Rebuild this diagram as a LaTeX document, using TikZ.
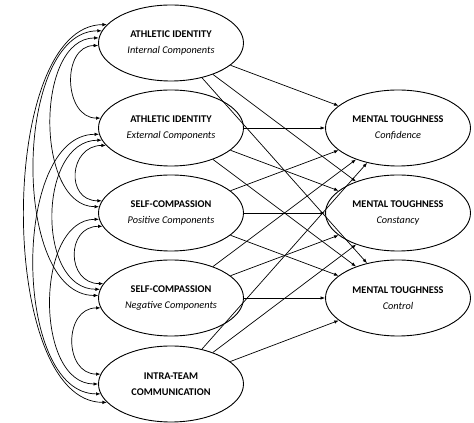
\documentclass[tikz,border=0pt]{standalone}
\usepackage{fontspec}
\setmainfont{Carlito}
\usetikzlibrary{shapes.geometric, arrows.meta}
\tikzset{>={Latex[length=4.5pt,width=3.5pt]}}
\def\leftx{171}
\def\rightx{398}
\def\covone{37}
\def\covtwo{64}
\def\covthree{88}
\def\covfour{110}
\tikzset{
  construct/.style={draw, ellipse, line width=0.9pt, minimum width=145pt, minimum height=76pt,
    inner sep=0pt, align=center, font=\fontsize{10.3}{16}\selectfont},
  path_arrow/.style={->, line width=0.7pt},
  cov_arrow/.style={<->, line width=0.7pt},
}

\begin{document}
\begin{tikzpicture}[x=1pt,y=1pt]

\useasboundingbox (0,0) rectangle (474,423);

% Predictors
\node[construct] (ai_internal) at (\leftx, 380) {\textbf{ATHLETIC IDENTITY}\\\textit{Internal Components}};
\node[construct] (ai_external) at (\leftx, 295) {\textbf{ATHLETIC IDENTITY}\\\textit{External Components}};
\node[construct] (sc_positive) at (\leftx, 210) {\textbf{SELF-COMPASSION}\\\textit{Positive Components}};
\node[construct] (sc_negative) at (\leftx, 125) {\textbf{SELF-COMPASSION}\\\textit{Negative Components}};
\node[construct] (intra_team) at (\leftx, 39) {\textbf{INTRA-TEAM}\\\textbf{COMMUNICATION}};

% Outcomes
\node[construct] (mt_confidence) at (\rightx, 295) {\textbf{MENTAL TOUGHNESS}\\\textit{Confidence}};
\node[construct] (mt_constancy) at (\rightx, 210) {\textbf{MENTAL TOUGHNESS}\\\textit{Constancy}};
\node[construct] (mt_control) at (\rightx, 125) {\textbf{MENTAL TOUGHNESS}\\\textit{Control}};

% Paths
\foreach \p in {ai_internal, ai_external, sc_positive, sc_negative, intra_team}{
    \foreach \o in {mt_confidence, mt_constancy, mt_control}{
        \draw[path_arrow] (\p) -- (\o);
    }
}

% Covariances
\draw[cov_arrow] (ai_internal.182) .. controls +(-\covone,0) and +(-\covone,0) .. (ai_external.172);
\draw[cov_arrow] (ai_internal.176) .. controls +(-\covtwo,0) and +(-\covtwo,0) .. (sc_positive.175);
\draw[cov_arrow] (ai_internal.170) .. controls +(-\covthree,0) and +(-\covthree,0) .. (sc_negative.178);
\draw[cov_arrow] (ai_internal.164) .. controls +(-\covfour,0) and +(-\covfour,0) .. (intra_team.196);

\draw[cov_arrow] (ai_external.195) .. controls +(-\covone,0) and +(-\covone,0) .. (sc_positive.170);
\draw[cov_arrow] (ai_external.190) .. controls +(-\covtwo,0) and +(-\covtwo,0) .. (sc_negative.173);
\draw[cov_arrow] (ai_external.185) .. controls +(-\covthree,0) and +(-\covthree,0) .. (intra_team.188);

\draw[cov_arrow] (sc_positive.191) .. controls +(-\covone,0) and +(-\covone,0) .. (sc_negative.168);
\draw[cov_arrow] (sc_positive.185) .. controls +(-\covtwo,0) and +(-\covtwo,0) .. (intra_team.180);

\draw[cov_arrow] (sc_negative.188) .. controls +(-\covone,0) and +(-\covone,0) .. (intra_team.172);

\end{tikzpicture}
\end{document}
